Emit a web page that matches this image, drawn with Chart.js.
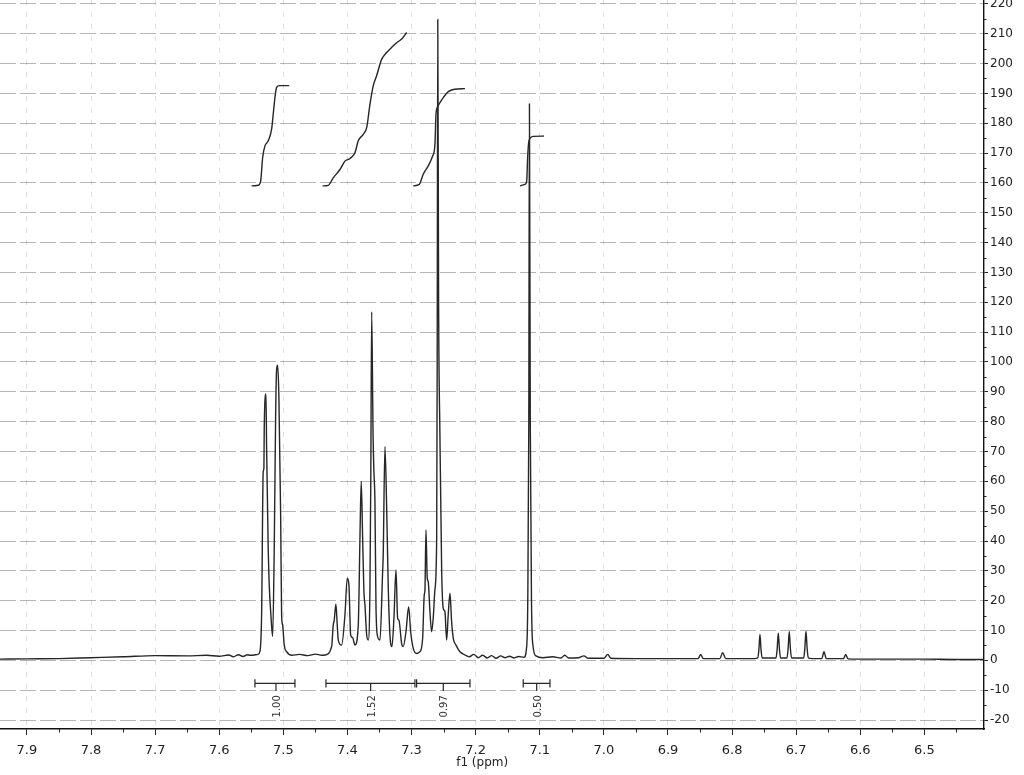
<!DOCTYPE html>
<html>
<head>
<meta charset="utf-8">
<script src="https://cdn.jsdelivr.net/npm/chart.js@4.4.1/dist/chart.umd.min.js"></script>
<style>
  html, body { margin: 0; padding: 0; background: #fff; }
</style>
</head>
<body>
<canvas id="nmrChart" width="1024" height="775"></canvas>
<script>
// axis range (ppm is reversed, intensity on the right)
const PPM_MIN = 6.407, PPM_MAX = 7.942;
const INT_MIN = -23, INT_MAX = 221.3;

const ppmTicks = [7.9, 7.8, 7.7, 7.6, 7.5, 7.4, 7.3, 7.2, 7.1, 7.0, 6.9, 6.8, 6.7, 6.6, 6.5];
const intTicks = [-20, -10, 0, 10, 20, 30, 40, 50, 60, 70, 80, 90, 100, 110, 120, 130, 140, 150, 160, 170, 180, 190, 200, 210, 220];

// 1H spectrum trace
const specPpm = [
  7.942, 7.90, 7.85, 7.80, 7.75, 7.70, 7.65, 7.62, 7.60, 7.585, 7.578, 7.570, 7.563, 7.556,
  7.552, 7.5396, 7.5365, 7.5339, 7.5314, 7.5303, 7.5298, 7.5271, 7.5261, 7.5236, 7.5220, 7.5194, 7.5167,
  7.5142, 7.5120, 7.5105, 7.5089, 7.5069, 7.5042, 7.5027, 7.5011, 7.4986, 7.4949, 7.4866,
  7.475, 7.462, 7.450, 7.440, 7.4351,
  7.4246, 7.4222, 7.4206, 7.4180, 7.4159, 7.4143, 7.4091, 7.4039, 7.4003, 7.3977, 7.3950, 7.3919, 7.3883,
  7.3831, 7.3805, 7.3785, 7.3763, 7.3743, 7.3727, 7.3700, 7.3675, 7.3649, 7.3636, 7.3622, 7.3600, 7.3587,
  7.3571, 7.3555, 7.3535, 7.3493, 7.3451, 7.3442, 7.3415, 7.3389, 7.3363, 7.3337, 7.3306, 7.3275, 7.3243,
  7.3217, 7.3197, 7.3155, 7.3130, 7.3087, 7.3045, 7.3014, 7.2973, 7.2921, 7.2869, 7.2827, 7.2802, 7.2791,
  7.2775, 7.2755, 7.2740, 7.2713, 7.2687, 7.2662, 7.2636, 7.2608, 7.2600, 7.2591, 7.2578, 7.2557, 7.2530,
  7.2505, 7.2479, 7.2453, 7.2428, 7.2401, 7.2375, 7.2349, 7.2307, 7.2245, 7.2167,
  7.210, 7.203, 7.196, 7.189, 7.182, 7.175, 7.168, 7.161, 7.154, 7.147, 7.140, 7.133,
  7.1246, 7.1207, 7.1187, 7.1171, 7.1161, 7.1148, 7.1129, 7.1106, 7.1059,
  7.095, 7.080, 7.067, 7.061, 7.055, 7.040, 7.031, 7.025, 7.000, 6.994, 6.989, 6.950, 6.900,
  6.853, 6.849, 6.845, 6.819, 6.8147, 6.810, 6.765,
  6.7600, 6.7582, 6.7565, 6.7548, 6.7530, 6.7315, 6.7297, 6.7279, 6.7261, 6.7243,
  6.7144, 6.7126, 6.7108, 6.7090, 6.7072, 6.6883, 6.6865, 6.6847, 6.6829, 6.6811,
  6.675, 6.660, 6.6566, 6.653, 6.626, 6.6228, 6.619, 6.58, 6.50, 6.45, 6.407
];
const specInt = [
  0.4, 0.5, 0.6, 0.9, 1.2, 1.6, 1.5, 1.7, 1.4, 1.8, 1.2, 1.9, 1.3, 1.9,
  1.7, 2.0, 3.0, 15.2, 63.3, 64.4, 77.9, 89.3, 71.1, 37.6, 25.3, 15.2, 8.0,
  37.6, 82.3, 97.4, 98.9, 87.9, 48.8, 15.2, 11.8, 5.1, 2.9, 1.7,
  2.0, 1.6, 2.1, 1.7, 1.8,
  4.7, 11.8, 13.5, 18.8, 11.8, 6.8, 5.1, 15.2, 27.5, 25.3, 8.5, 7.6, 5.1,
  11.8, 40.9, 60.0, 40.9, 23.1, 18.6, 8.5, 6.8, 24.2, 60, 116.8, 75, 63.3,
  53, 18.6, 8.5, 6.8, 29.8, 35.3, 71.7, 52.1, 24.2, 8.5, 4.6, 14.1, 30.3,
  14.1, 13.5, 5.7, 4.6, 9.6, 18.0, 9.6, 4.0, 2.3, 2.9, 7.4, 21.9, 23.6,
  43.7, 27.5, 26.4, 16.3, 9.6, 14.1, 23.6, 40.9, 100, 214.8, 120, 75, 29.8,
  17.4, 16.3, 6.8, 15.2, 22.5, 13.0, 7.4, 5.1, 2.9, 1.8,
  1.2, 2.0, 0.9, 1.7, 0.8, 1.6, 0.7, 1.5, 0.9, 1.4, 0.8, 1.3,
  1.0, 4, 20, 80, 186.5, 80, 20, 5, 1.5,
  0.9, 1.2, 0.8, 1.7, 0.8, 0.9, 1.5, 0.7, 0.7, 2.0, 0.7, 0.6, 0.6,
  0.6, 2.0, 0.6, 0.6, 2.6, 0.6, 0.6,
  0.8, 3.5, 8.7, 3.5, 0.8, 0.8, 3.7, 9.1, 3.7, 0.8,
  0.8, 3.9, 9.6, 3.9, 0.8, 0.8, 4.0, 9.8, 4.0, 0.8,
  0.6, 0.6, 2.9, 0.6, 0.6, 2.0, 0.5, 0.4, 0.4, 0.3, 0.3
];

// integral curves
const int1Ppm = [7.5495, 7.5392, 7.5354, 7.5323, 7.5287, 7.5236, 7.5183, 7.5158, 7.5131, 7.5105, 7.5064, 7.4908];
const int1Val = [159.0, 159.2, 160.6, 168.5, 172.4, 174.1, 178.0, 183.0, 188.6, 192.0, 192.6, 192.6];
const int2Ppm = [7.4387, 7.4300, 7.4222, 7.4117, 7.4039, 7.3961, 7.3883, 7.3831, 7.3753, 7.3700, 7.3649, 7.3598, 7.3545, 7.3467, 7.3389, 7.3311, 7.3232, 7.3154, 7.3077];
const int2Val = [159.0, 159.2, 161.7, 164.5, 167.3, 168.2, 170.1, 174.1, 176.3, 178.5, 186.3, 192.5, 195.9, 201.4, 203.7, 205.4, 207.0, 208.2, 210.4];
const int3Ppm = [7.2973, 7.2880, 7.2818, 7.2740, 7.2671, 7.2635, 7.2619, 7.2599, 7.2557, 7.2505, 7.2427, 7.2323, 7.2167];
const int3Val = [159.0, 159.5, 162.9, 165.7, 169.0, 172.9, 183.0, 185.2, 186.9, 188.6, 190.6, 191.4, 191.6];
const int4Ppm = [7.1309, 7.1231, 7.1204, 7.1189, 7.1173, 7.1153, 7.1101, 7.0934];
const int4Val = [159.0, 159.5, 160.6, 168.5, 173.5, 174.9, 175.6, 175.7];

// integration ranges under the baseline
const barFrom = [7.5443, 7.4335, 7.2921, 7.1258];
const barTo = [7.4819, 7.2947, 7.2089, 7.0841];
const barMid = [7.5115, 7.3638, 7.2505, 7.1048];
const barLabel = ['1.00', '1.52', '0.97', '0.50'];

const BAR_Y = -7.7, CAP = 1.4, MID_Y = -10.3, LABEL_Y = -15.4;
const INK = '#262626';

function toPoints(xs, ys) { return xs.map((x, i) => ({ x: x, y: ys[i] })); }

const barPoints = [];
barFrom.forEach((f, i) => {
    const t = barTo[i], m = barMid[i];
    barPoints.push({ x: f, y: BAR_Y + CAP }, { x: f, y: BAR_Y - CAP }, { x: f, y: null });
    barPoints.push({ x: f, y: BAR_Y }, { x: t, y: BAR_Y }, { x: t, y: null });
    barPoints.push({ x: t, y: BAR_Y + CAP }, { x: t, y: BAR_Y - CAP }, { x: t, y: null });
    barPoints.push({ x: m, y: BAR_Y }, { x: m, y: MID_Y }, { x: m, y: null });
});

const lineStyle = { borderColor: INK, borderWidth: 1.4, pointRadius: 0, fill: false, cubicInterpolationMode: 'monotone' };

const minorTicks = {
    id: 'minorTicks',
    afterDraw(chart) {
        const { ctx, chartArea: a, scales: { x, y } } = chart;
        ctx.save();
        ctx.strokeStyle = INK; ctx.lineWidth = 1;
        ctx.beginPath();
        for (let v = 6.45; v < PPM_MAX; v += 0.1) {
            const px = Math.round(x.getPixelForValue(v)) + 0.5;
            ctx.moveTo(px, a.bottom); ctx.lineTo(px, a.bottom + 3.5);
        }
        for (let v = -15; v < INT_MAX; v += 10) {
            const py = Math.round(y.getPixelForValue(v)) + 0.5;
            ctx.moveTo(a.right, py); ctx.lineTo(a.right + 2.5, py);
        }
        ctx.stroke();
        ctx.restore();
    }
};

const integralLabels = {
    id: 'integralLabels',
    afterDatasetsDraw(chart) {
        const { ctx, scales: { x, y } } = chart;
        ctx.save();
        ctx.fillStyle = '#333';
        ctx.font = '10px "DejaVu Sans"';
        ctx.textAlign = 'center';
        ctx.textBaseline = 'middle';
        barLabel.forEach((txt, i) => {
            ctx.save();
            ctx.translate(x.getPixelForValue(barMid[i]) + 1.5, y.getPixelForValue(LABEL_Y));
            ctx.rotate(-Math.PI / 2);
            ctx.fillText(txt, 0, 0);
            ctx.restore();
        });
        ctx.restore();
    }
};

const axisTitle = {
    id: 'axisTitle',
    afterDraw(chart) {
        const { ctx, chartArea: a } = chart;
        ctx.save();
        ctx.fillStyle = '#222';
        ctx.font = '12px "DejaVu Sans"';
        ctx.textAlign = 'center';
        ctx.textBaseline = 'middle';
        ctx.fillText('f1 (ppm)', a.left + a.width * 0.49, 763);
        ctx.restore();
    }
};

const ctx = document.getElementById('nmrChart').getContext('2d');
const nmrChart = new Chart(ctx, {
    type: 'line',
    data: {
        datasets: [
            { ...lineStyle, data: toPoints(specPpm, specInt) },
            { ...lineStyle, data: toPoints(int1Ppm, int1Val) },
            { ...lineStyle, data: toPoints(int2Ppm, int2Val) },
            { ...lineStyle, data: toPoints(int3Ppm, int3Val) },
            { ...lineStyle, data: toPoints(int4Ppm, int4Val) },
            { borderColor: INK, borderWidth: 1.2, pointRadius: 0, fill: false, tension: 0, spanGaps: false, data: barPoints }
        ]
    },
    options: {
        responsive: false,
        animation: false,
        layout: { padding: 0 },
        plugins: { legend: { display: false }, tooltip: { enabled: false } },
        scales: {
            x: {
                type: 'linear', reverse: true, min: PPM_MIN, max: PPM_MAX,
                afterBuildTicks: s => { s.ticks = ppmTicks.map(v => ({ value: v })); },
                afterFit: s => { s.height = 46; s.paddingLeft = 0; s.paddingRight = 0; },
                ticks: { autoSkip: false, maxRotation: 0, padding: 8, color: '#222', font: { family: 'DejaVu Sans', size: 13 }, callback: v => v.toFixed(1) },
                grid: { color: 'rgba(170,170,170,0.4)', lineWidth: 1, tickLength: 6, tickColor: INK, tickWidth: 1 },
                border: { color: '#111', width: 1.4, dash: [5, 7] }
            },
            y: {
                position: 'right', min: INT_MIN, max: INT_MAX,
                afterBuildTicks: s => { s.ticks = intTicks.map(v => ({ value: v })); },
                afterFit: s => { s.width = 40; s.paddingTop = 0; s.paddingBottom = 0; },
                ticks: { padding: 2, color: '#222', font: { family: 'DejaVu Sans', size: 12 }, callback: v => String(v) },
                grid: { color: 'rgba(110,110,110,0.5)', lineWidth: 1, tickLength: 4, tickColor: INK, tickWidth: 1 },
                border: { color: '#111', width: 1.4, dash: [16, 4] }
            }
        }
    },
    plugins: [minorTicks, integralLabels, axisTitle]
});
</script>
</body>
</html>
